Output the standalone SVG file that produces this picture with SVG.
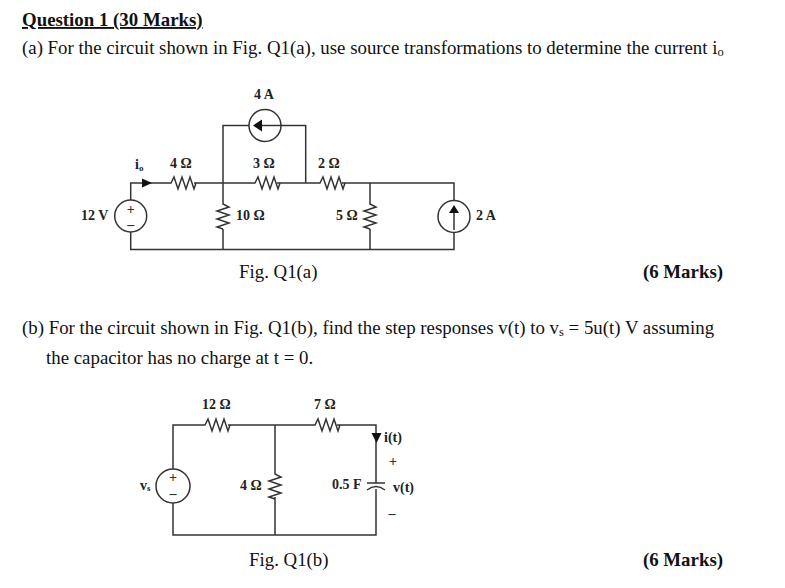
<svg xmlns="http://www.w3.org/2000/svg" width="785" height="588" viewBox="0 0 785 588">
<style>
text{font-family:"Liberation Serif","Times New Roman",serif;fill:#111}
.t{font-size:18.85px}
.b{font-weight:bold}
.l{font-size:14px;font-weight:bold;fill:#222}
.w{fill:none;stroke:#333;stroke-width:1.5;stroke-linejoin:miter}
.c{fill:#fff;stroke:#333;stroke-width:1.5}
.a{fill:#111;stroke:none}
.s{font-size:14px;font-weight:bold;fill:#333}
</style>
<defs>
<path id="rh" class="w" d="M0 0l3 0 3-6 4 12 4-12 4 12 4-12 4 12 2-6"/>
<path id="rv" class="w" d="M0 0l0 1 6 3-12 4 12 4-12 4 12 4-12 4 6 2 0 0"/>
</defs>
<rect width="785" height="588" fill="#fff"/>
<text id="title" class="t b" x="22" y="26" text-decoration="underline">Question 1 (30 Marks)</text>
<text class="t" x="22" y="54">(a) For the circuit shown in Fig. Q1(a), use source transformations to determine the current i<tspan font-size="12.500" dy="2">o</tspan></text>
<text class="t" x="239" y="278">Fig. Q1(a)</text>
<text class="t b" x="723" y="278" text-anchor="end">(6 Marks)</text>
<text class="t" x="22" y="334">(b) For the circuit shown in Fig. Q1(b), find the step responses v(t) to v<tspan font-size="12.500" dy="2">s</tspan><tspan dy="-2"> = 5u(t) V assuming</tspan></text>
<text class="t" x="46" y="364">the capacitor has no charge at t = 0.</text>
<text class="t" x="249" y="566">Fig. Q1(b)</text>
<text class="t b" x="723" y="566" text-anchor="end">(6 Marks)</text>

<g id="connectors">
<path class="w" d="M130.700 200V183H168M194 183H252M277 183H317M342 183H454V200M223 183V125.500H249M281 125.500H305.700V183M223 183V203M223 229V249.500M370 183V203M370 229V249.500M130.700 232V249.500H454V233"/>
<path class="w" d="M173 469V425H202M228 425H312M337 425H376V483M376 489V535H173V503M275 425V473M275 497V535"/>
<path class="a" d="M142 178.500l10 4.500-10 4.500z"/>
<path class="a" d="M371.500 433h10l-5 10z"/>
</g>

<g id="src-12v"><circle class="c" cx="130.700" cy="216" r="16"/><text class="s" x="130.700" y="214" text-anchor="middle">+</text><text class="s" x="130.700" y="229" text-anchor="middle">–</text><text class="l" x="81" y="220">12 V</text></g>
<g id="r-4"><use href="#rh" x="168" y="183"/><text class="l" x="170" y="168">4 Ω</text></g>
<g id="r-3"><use href="#rh" x="252" y="183"/><text class="l" x="253" y="168">3 Ω</text></g>
<g id="r-2"><use href="#rh" x="317" y="183"/><text class="l" x="318" y="168">2 Ω</text></g>
<g id="label-io"><text class="l" x="135" y="169">i<tspan font-size="9" dy="2">o</tspan></text></g>
<g id="src-4a"><circle class="c" cx="265" cy="125.500" r="16"/><path class="w" d="M258 125.500H281"/><path class="a" d="M262 119.500v12l-9-6z"/><text class="l" x="254" y="99">4 A</text></g>
<g id="r-10"><use href="#rv" x="223" y="203"/><text class="l" x="236" y="220">10 Ω</text></g>
<g id="r-5"><use href="#rv" x="370" y="203"/><text class="l" x="336" y="220">5 Ω</text></g>
<g id="src-2a"><circle class="c" cx="454" cy="216.500" r="16"/><path class="w" d="M454 210V230"/><path class="a" d="M449 213l5-8 5 8z"/><text class="l" x="476" y="220">2 A</text></g>

<g id="src-vs"><circle class="c" cx="173" cy="486" r="17"/><text class="s" x="173" y="482" text-anchor="middle">+</text><text class="s" x="173" y="498" text-anchor="middle">–</text><text class="l" x="140" y="490">v<tspan font-size="9" dy="1">s</tspan></text></g>
<g id="r-12"><use href="#rh" x="202" y="425"/><text class="l" x="202" y="409">12 Ω</text></g>
<g id="r-4b"><use href="#rv" x="275" y="473"/><text class="l" x="240" y="490">4 Ω</text></g>
<g id="r-7"><use href="#rh" x="312" y="425"/><text class="l" x="314" y="409">7 Ω</text></g>
<g id="cap"><path class="w" d="M367 483H385M367 490Q376 483 385 490"/><text class="l" x="332" y="489">0.5 F</text></g>
<g id="labels-b"><text class="l" x="384" y="442">i(t)</text><text class="s" x="393" y="466" text-anchor="middle">+</text><text class="l" x="393" y="492">v(t)</text><text class="s" x="392" y="518" text-anchor="middle">–</text></g>
</svg>
